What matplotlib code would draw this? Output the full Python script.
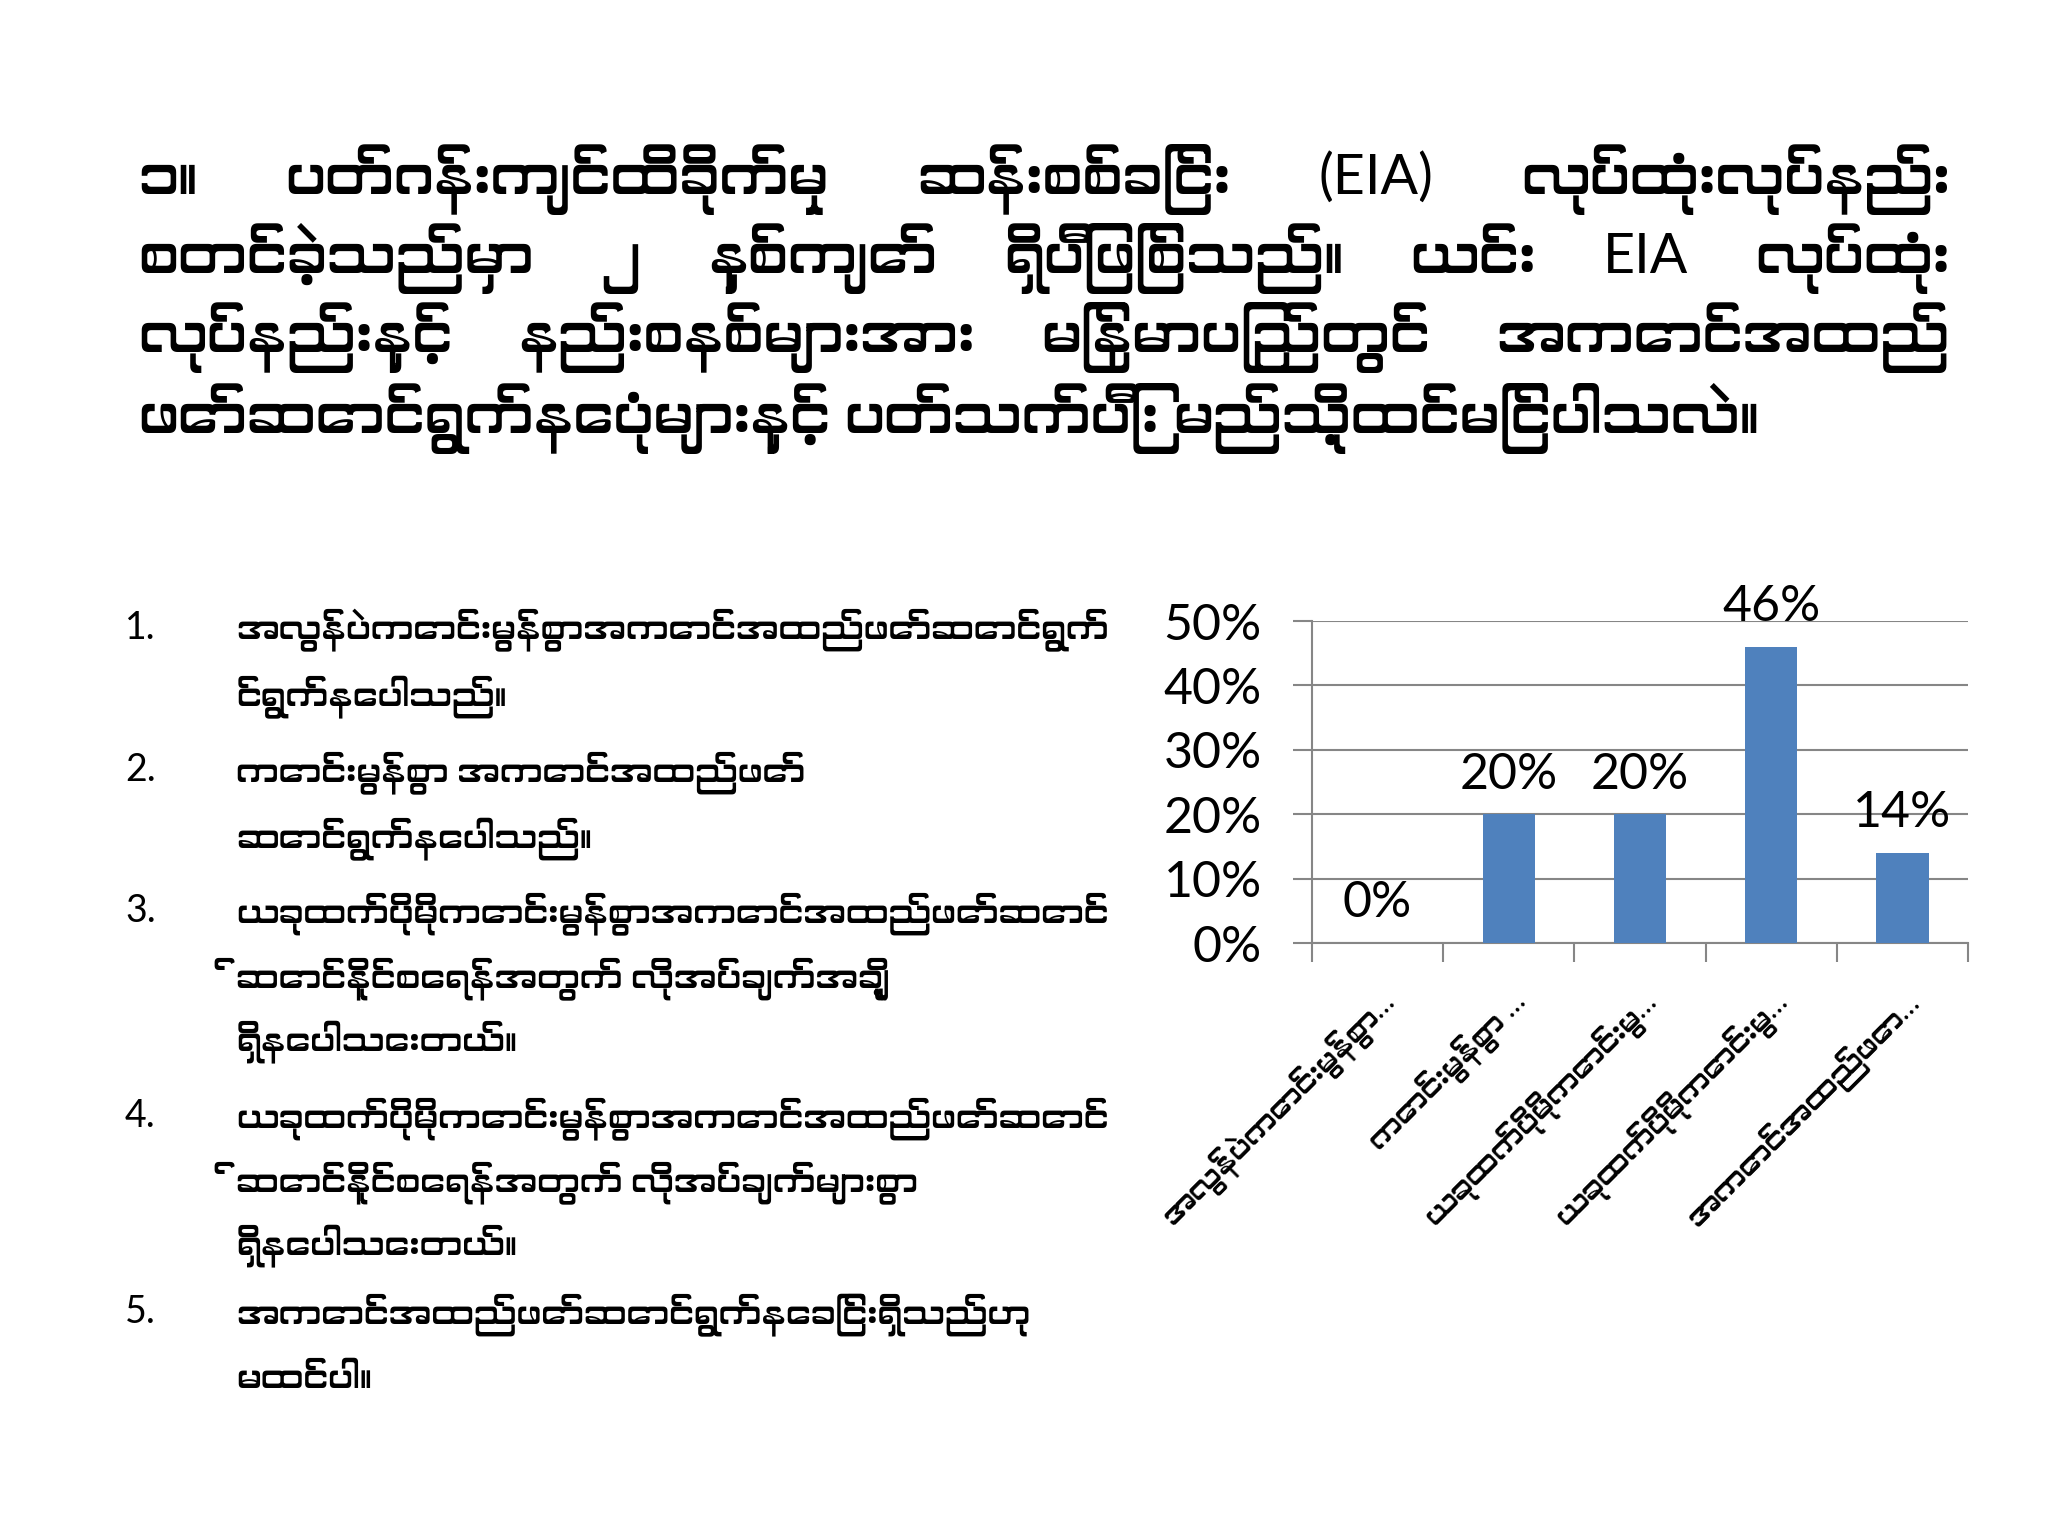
import matplotlib
matplotlib.use("Agg")
import matplotlib.pyplot as plt
from matplotlib import font_manager as fm
from matplotlib.ft2font import FT2Font

# ---------------- data ----------------
title_lines = [
    ["၁။", "ပတ်ဂန်းကျင်ထိခိုက်မှု", "ဆန်းစစ်ခြင်း", "(EIA)", "လုပ်ထုံးလုပ်နည်း"],
    ["စတင်ခဲ့သည်မှာ", "၂", "နှစ်ကျော်", "ရှိပြီဖြစ်သည်။", "ယင်း", "EIA", "လုပ်ထုံး"],
    ["လုပ်နည်းနှင့်", "နည်းစနစ်များအား", "မြန်မာပြည်တွင်", "အကောင်အထည်"],
    ["ဖော်ဆောင်ရွက်နေပုံများနှင့်", "ပတ်သက်ပြီး", "မည်သို့ထင်မြင်ပါသလဲ။"],
]
item_numbers = ["1.", "2.", "3.", "4.", "5."]
item_lines = [
    ["အလွန်ပဲကောင်းမွန်စွာအကောင်အထည်ဖော်ဆောင်ရွက်", "င်ရွက်နေပါသည်။"],
    ["ကောင်းမွန်စွာ အကောင်အထည်ဖော်", "ဆောင်ရွက်နေပါသည်။"],
    ["ယခုထက်ပိုမိုကောင်းမွန်စွာအကောင်အထည်ဖော်ဆောင်", "်ဆောင်နိုင်စေရန်အတွက် လိုအပ်ချက်အချို့", "ရှိနေပါသေးတယ်။"],
    ["ယခုထက်ပိုမိုကောင်းမွန်စွာအကောင်အထည်ဖော်ဆောင်", "်ဆောင်နိုင်စေရန်အတွက် လိုအပ်ချက်များစွာ", "ရှိနေပါသေးတယ်။"],
    ["အကောင်အထည်ဖော်ဆောင်ရွက်နေခြင်းရှိသည်ဟု", "မထင်ပါ။"],
]
categories = ["အလွန်ပဲကောင်းမွန်စွာ…", "ကောင်းမွန်စွာ …", "ယခုထက်ပိုမိုကောင်းမွ…",
              "ယခုထက်ပိုမိုကောင်းမွ…", "အကောင်အထည်ဖော…"]
values = [0, 20, 20, 46, 14]
yticks = [0, 10, 20, 30, 40, 50]


# ---------------- fonts ----------------
def find_myanmar_font():
    for f in fm.fontManager.ttflist:
        if any(k in f.name for k in ("Myanmar", "Padauk", "Pyidaungsu")):
            return f.name
    for f in fm.fontManager.ttflist:
        try:
            cm = FT2Font(f.fname).get_charmap()
        except Exception:
            continue
        if 0x1000 in cm and 0x1031 in cm:
            return f.name
    return None


mm = find_myanmar_font()
FAM = ["Lato"] + ([mm] if mm else []) + ["DejaVu Sans"]
plt.rcParams["font.family"] = FAM

W, H = 2048, 1536
fig = plt.figure(figsize=(W / 100, H / 100), dpi=100)
fig.patch.set_facecolor("white")
renderer = fig.canvas.get_renderer()


def text_width(s, size):
    t = fig.text(0, 0, s, fontsize=size)
    w = t.get_window_extent(renderer).width
    t.remove()
    return w


def px(x, y):
    return x / W, 1 - y / H


# ---------------- title (justified) ----------------
tx0, tx1 = 138, 1950
title_base = [194, 273, 352, 433]
tsize = 40
for words in title_lines[:-1]:
    tot = sum(text_width(w, tsize) for w in words)
    need = tot + (len(words) - 1) * 0.3 * tsize
    if need > tx1 - tx0:
        tsize = min(tsize, tsize * (tx1 - tx0) / need)
for li, words in enumerate(title_lines):
    widths = [text_width(w, tsize) for w in words]
    if li < len(title_lines) - 1:
        gap = (tx1 - tx0 - sum(widths)) / (len(words) - 1)
    else:
        gap = text_width("a a", tsize) - text_width("aa", tsize)
    x = tx0
    for w, wd in zip(words, widths):
        fig.text(*px(x, title_base[li]), w, fontsize=tsize, va="baseline",
                 ha="left", color="black")
        x += wd + gap

# ---------------- numbered list ----------------
list_base = [[639, 705], [781, 847], [922, 987, 1050], [1127, 1191, 1254], [1323, 1388]]
lsize = 26
maxw = 1110 - 236
for lines in item_lines:
    for s in lines:
        wd = text_width(s, lsize)
        if wd > maxw:
            lsize = min(lsize, lsize * maxw / wd)
for num, lines, ys in zip(item_numbers, item_lines, list_base):
    fig.text(*px(125, ys[0]), num, fontsize=27, va="baseline", ha="left")
    for s, y in zip(lines, ys):
        fig.text(*px(236, y), s, fontsize=lsize, va="baseline", ha="left")

# ---------------- bar chart ----------------
ax = fig.add_axes([1312 / W, 1 - 943 / H, (1968 - 1312) / W, (943 - 621) / H])
xs = list(range(len(values)))
bars = ax.bar(xs, values, width=0.4, color="#4F81BD", zorder=3)
ax.bar_label(bars, labels=[f"{v}%" for v in values], padding=12, fontsize=36)

ax.set_xlim(-0.5, len(values) - 0.5)
ax.set_ylim(0, 50)
ax.set_yticks(yticks)
ax.set_yticklabels([f"{v}%" for v in yticks], fontsize=36)
ax.set_xticks([i - 0.5 for i in range(len(values) + 1)])
ax.set_xticklabels([])
ax.set_xticks(xs, minor=True)
ax.set_xticklabels(categories, minor=True, rotation=45, ha="right", va="top",
                   rotation_mode="anchor", fontsize=21)
ax.tick_params(axis="x", which="minor", length=0, pad=30)
ax.tick_params(axis="x", which="major", length=14, width=1.5, color="#868686", direction="out")
ax.tick_params(axis="y", length=14, width=1.5, color="#868686", direction="out", pad=22)
ax.grid(axis="y", color="#868686", linewidth=1.5, zorder=0)
for s in ("top", "right"):
    ax.spines[s].set_visible(False)
for s in ("left", "bottom"):
    ax.spines[s].set_color("#868686")
    ax.spines[s].set_linewidth(1.5)
ax.set_facecolor("white")

fig.savefig("out.png", dpi=100, facecolor="white")
